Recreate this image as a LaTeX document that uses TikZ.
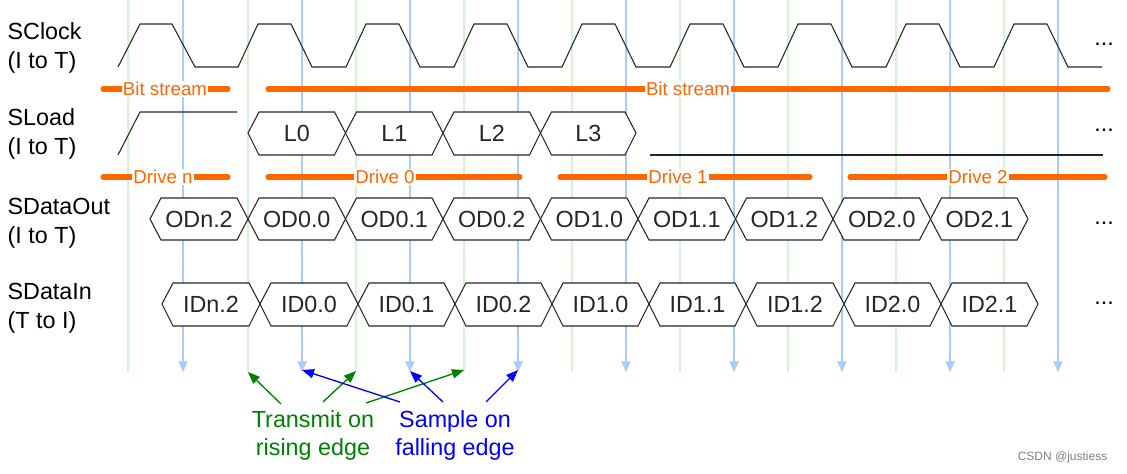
\documentclass[tikz,border=0pt]{standalone}
\usepackage{fontspec}
\setmainfont{Liberation Sans}
\usetikzlibrary{arrows.meta}
\definecolor{org}{HTML}{FF6600}
\definecolor{lblue}{HTML}{A8CCFF}
\definecolor{lgreen}{HTML}{D4F4D4}
\definecolor{tgreen}{HTML}{008000}
\begin{document}
\begin{tikzpicture}[x=0.75pt,y=-0.75pt,
  lbl/.style={font=\fontsize{17.5}{22}\selectfont,align=left,anchor=west},
  sig/.style={line width=0.8pt,black!85},
  bar/.style={line width=3.8pt,org,line cap=round},
  bartxt/.style={fill=white,inner sep=1pt,text=org,font=\fontsize{14}{15}\selectfont},
  hx/.style={sig,fill=white},
  hxt/.style={font=\fontsize{17.5}{19}\selectfont},
  gv/.style={lgreen,line width=0.8pt},
  bv/.style={lblue,line width=0.9pt,-{Triangle[width=7pt,length=8pt]}},
  garr/.style={tgreen,line width=1pt,-{Triangle[width=7pt,length=9pt]}},
  barr/.style={blue,line width=1pt,-{Triangle[width=7pt,length=9pt]}}]
\useasboundingbox (0,0) rectangle (1127,474);
% guide lines
\foreach \x in {128,248,356,464,572,680,788,896,1004} \draw[gv] (\x,0) -- (\x,372);
\foreach \x in {183,302,410,518,626,734,842,950,1058} \draw[bv] (\x,0) -- (\x,372);
% labels
\node[lbl,fill=white,inner sep=1pt] (l1) at (6,48) {SClock\\(I to T)};
\node[lbl,fill=white,inner sep=1pt] (l2) at (6,134) {SLoad\\(I to T)};
\node[lbl,fill=white,inner sep=1pt] (l3) at (6,223) {SDataOut\\(I to T)};
\node[lbl,fill=white,inner sep=1pt] (l4) at (6,308) {SDataIn\\(T to I)};
% clock
\draw[sig] (118,67) -- (140,24) -- (172,24) -- (195,67) -- (238,67)
  \foreach \k in {0,...,7} { -- ++(20,-43) -- ++(33,0) -- ++(21,43) -- ++(34,0) };
\foreach \y/\n in {44/d1,130/d2,223/d3,303/d4} \node[hxt] (\n) at (1104,\y) {...};
% bit stream bars
\draw[bar] (103,89) -- (228,89);
\node[bartxt] (b1) at (165,89) {Bit stream};
\draw[bar] (268,89) -- (1108,89);
\node[bartxt] (b2) at (688,89) {Bit stream};
% SLoad
\draw[sig] (118,155) -- (140,112) -- (237,112);
\foreach \a/\b/\t [count=\i] in {248/345.5/L0,345.5/443/L1,443/540.5/L2,540.5/636/L3}
  \draw[hx] (\a,133) -- (\a+11,112) -- (\b-11,112) -- (\b,133) -- (\b-11,155) -- (\a+11,155) -- cycle
  node[hxt] (ld\i) at ({(\a+\b)/2},133) {\t};
\draw[sig] (650,155) -- (1103,155);
% drive bars
\draw[bar] (103,177) -- (228,177);
\node[bartxt] (c1) at (163,177) {Drive n};
\draw[bar] (268,177) -- (520,177);
\node[bartxt] (c2) at (385,177) {Drive 0};
\draw[bar] (560,177) -- (810,177);
\node[bartxt] (c3) at (678,177) {Drive 1};
\draw[bar] (850,177) -- (1105,177);
\node[bartxt] (c4) at (978,177) {Drive 2};
% SDataOut
\foreach \a/\b/\t [count=\i] in {150/248/ODn.2,248/345.5/OD0.0,345.5/443/OD0.1,443/540.5/OD0.2,540.5/638/OD1.0,638/735.5/OD1.1,735.5/833/OD1.2,833/930.5/OD2.0,930.5/1028/OD2.1}
  \draw[hx] (\a,219) -- (\a+11,198) -- (\b-11,198) -- (\b,219) -- (\b-11,240) -- (\a+11,240) -- cycle
  node[hxt] (od\i) at ({(\a+\b)/2},219) {\t};
% SDataIn
\foreach \a/\b/\t [count=\i] in {162/260/IDn.2,260/358/ID0.0,358/455/ID0.1,455/552/ID0.2,552/649/ID1.0,649/746/ID1.1,746/844/ID1.2,844/941/ID2.0,941/1038/ID2.1}
  \draw[hx] (\a,304) -- (\a+11,283) -- (\b-11,283) -- (\b,304) -- (\b-11,326) -- (\a+11,326) -- cycle
  node[hxt] (id\i) at ({(\a+\b)/2},304) {\t};
% annotation
\node[text=tgreen,font=\fontsize{17.5}{21}\selectfont,align=center] (tr) at (313,435) {Transmit on\\rising edge};
\node[text=blue,font=\fontsize{17.5}{21}\selectfont,align=center] (sa) at (455,435) {Sample on\\falling edge};
\coordinate (g1) at (248,372); \coordinate (g2) at (356,371); \coordinate (g3) at (464,370);
\coordinate (s1) at (302,370); \coordinate (s2) at (410,371); \coordinate (s3) at (518,370);
\draw[garr] (281,404) -- (g1);
\draw[garr] (323,402) -- (g2);
\draw[garr] (366,403) -- (g3);
\draw[barr] (400,402) -- (s1);
\draw[barr] (443,402) -- (s2);
\draw[barr] (486,402) -- (s3);
\node[text=gray,font=\fontsize{9}{10}\selectfont,anchor=east] (wm) at (1112,457) {CSDN @justiess};
\end{tikzpicture}
\end{document}
